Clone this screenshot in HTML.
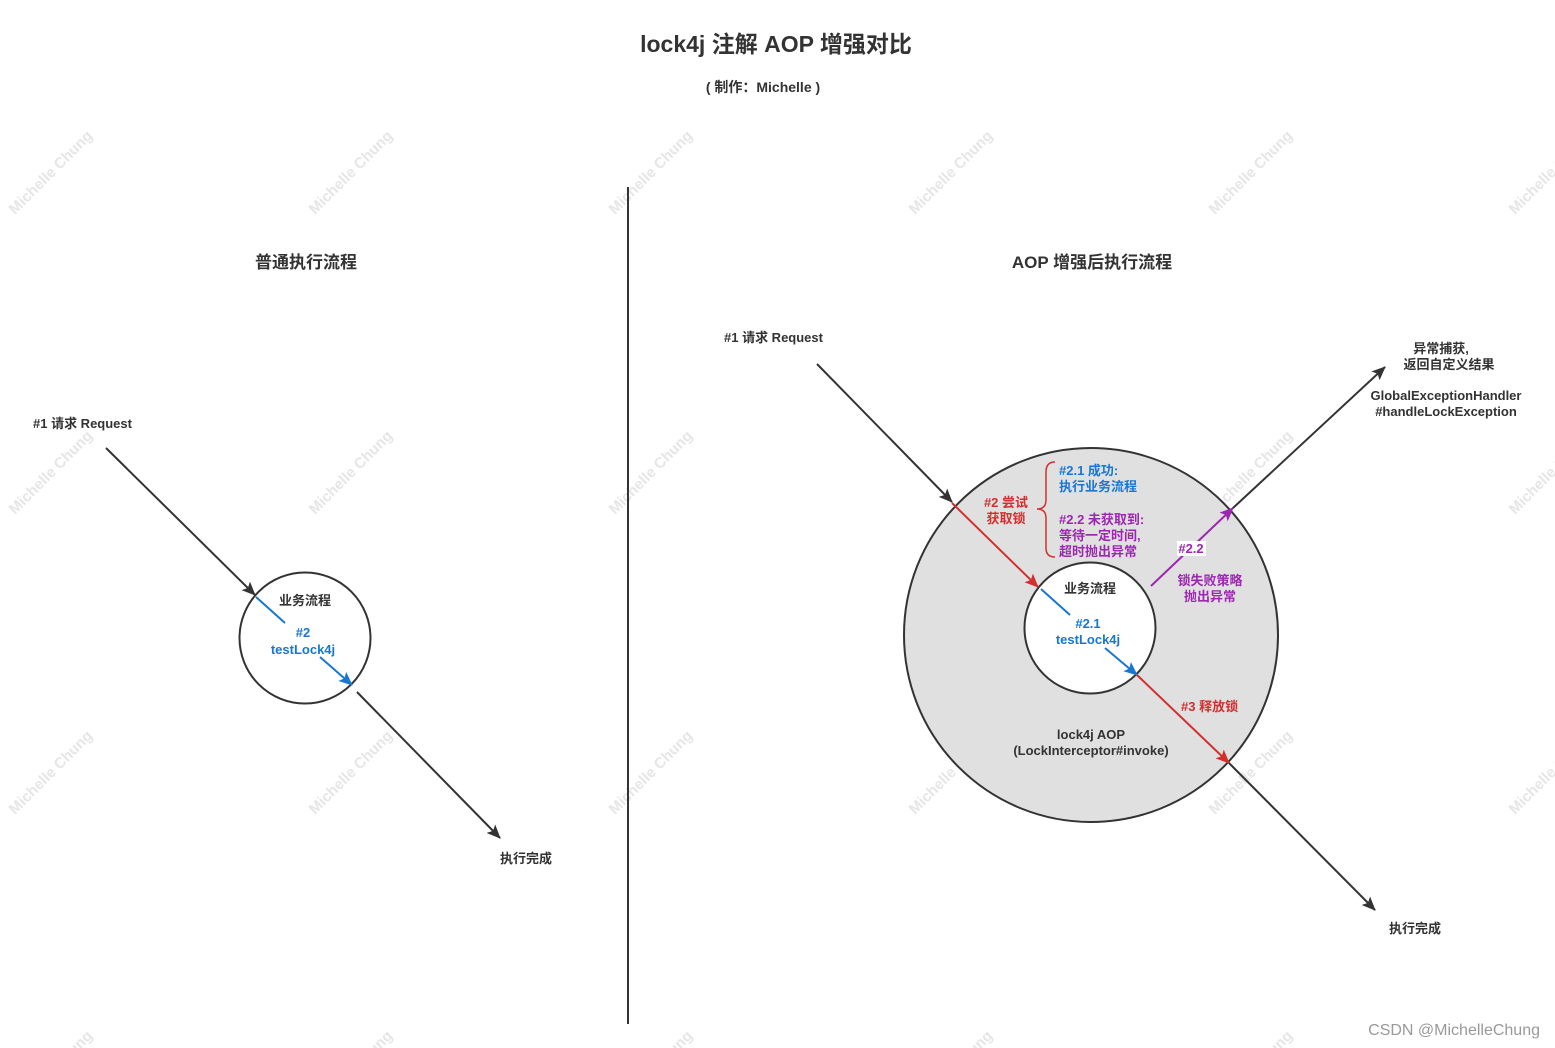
<!DOCTYPE html>
<html><head><meta charset="utf-8"><style>
html,body{margin:0;padding:0;background:#fff;width:1555px;height:1048px;overflow:hidden;}
svg{display:block;}
text{font-family:"Liberation Sans","Noto Sans CJK SC",sans-serif;font-weight:bold;}
</style></head><body>
<svg width="1555" height="1048" viewBox="0 0 1555 1048" xmlns="http://www.w3.org/2000/svg">
<defs>
<marker id="ak" markerWidth="14" markerHeight="12" refX="13" refY="6" orient="auto" markerUnits="userSpaceOnUse" viewBox="0 0 14 12"><path d="M0,0 L14,6 L0,12 L3,6 z" fill="#333"/></marker>
<marker id="ar" markerWidth="14" markerHeight="12" refX="13" refY="6" orient="auto" markerUnits="userSpaceOnUse" viewBox="0 0 14 12"><path d="M0,0 L14,6 L0,12 L3,6 z" fill="#d32f2f"/></marker>
<marker id="ab" markerWidth="14" markerHeight="12" refX="13" refY="6" orient="auto" markerUnits="userSpaceOnUse" viewBox="0 0 14 12"><path d="M0,0 L14,6 L0,12 L3,6 z" fill="#1976d2"/></marker>
<marker id="ap" markerWidth="14" markerHeight="12" refX="13" refY="6" orient="auto" markerUnits="userSpaceOnUse" viewBox="0 0 14 12"><path d="M0,0 L14,6 L0,12 L3,6 z" fill="#9c27b0"/></marker>
</defs>
<g fill="#e6e6e6" font-size="15" style="font-weight:normal">
<text transform="translate(15,215) rotate(-45)">Michelle Chung</text>
<text transform="translate(315,215) rotate(-45)">Michelle Chung</text>
<text transform="translate(615,215) rotate(-45)">Michelle Chung</text>
<text transform="translate(915,215) rotate(-45)">Michelle Chung</text>
<text transform="translate(1215,215) rotate(-45)">Michelle Chung</text>
<text transform="translate(1515,215) rotate(-45)">Michelle Chung</text>
<text transform="translate(15,515) rotate(-45)">Michelle Chung</text>
<text transform="translate(315,515) rotate(-45)">Michelle Chung</text>
<text transform="translate(615,515) rotate(-45)">Michelle Chung</text>
<text transform="translate(1215,515) rotate(-45)">Michelle Chung</text>
<text transform="translate(1515,515) rotate(-45)">Michelle Chung</text>
<text transform="translate(15,815) rotate(-45)">Michelle Chung</text>
<text transform="translate(315,815) rotate(-45)">Michelle Chung</text>
<text transform="translate(615,815) rotate(-45)">Michelle Chung</text>
<text transform="translate(915,815) rotate(-45)">Michelle Chung</text>
<text transform="translate(1215,815) rotate(-45)">Michelle Chung</text>
<text transform="translate(1515,815) rotate(-45)">Michelle Chung</text>
<text transform="translate(15,1115) rotate(-45)">Michelle Chung</text>
<text transform="translate(315,1115) rotate(-45)">Michelle Chung</text>
<text transform="translate(615,1115) rotate(-45)">Michelle Chung</text>
<text transform="translate(915,1115) rotate(-45)">Michelle Chung</text>
<text transform="translate(1215,1115) rotate(-45)">Michelle Chung</text>
</g>

<text x="776" y="52" font-size="23" fill="#333" text-anchor="middle">lock4j 注解 AOP 增强对比</text>
<text x="763" y="92" font-size="14" fill="#333" text-anchor="middle">( 制作：Michelle )</text>

<line x1="628" y1="187" x2="628" y2="1024" stroke="#333" stroke-width="2"/>

<text x="306" y="268" font-size="17" fill="#333" text-anchor="middle">普通执行流程</text>
<text x="1092" y="268" font-size="17" fill="#333" text-anchor="middle">AOP 增强后执行流程</text>

<!-- Left -->
<text x="33" y="428" font-size="13" fill="#333">#1 请求 Request</text>
<line x1="106" y1="448" x2="255" y2="595" stroke="#333" stroke-width="2" marker-end="url(#ak)"/>
<circle cx="305" cy="638" r="65.5" fill="#fff" stroke="#333" stroke-width="2"/>
<text x="305" y="605" font-size="13" fill="#333" text-anchor="middle">业务流程</text>
<line x1="256" y1="597" x2="285" y2="623" stroke="#1976d2" stroke-width="2"/>
<text x="303" y="637" font-size="13" fill="#1976d2" text-anchor="middle">#2</text>
<text x="303" y="654" font-size="13" fill="#1976d2" text-anchor="middle">testLock4j</text>
<line x1="320" y1="657" x2="352" y2="685" stroke="#1976d2" stroke-width="2" marker-end="url(#ab)"/>
<line x1="357" y1="692" x2="500" y2="838" stroke="#333" stroke-width="2" marker-end="url(#ak)"/>
<text x="500" y="863" font-size="13" fill="#333">执行完成</text>

<!-- Right -->
<ellipse cx="1091" cy="635" rx="187" ry="187" fill="#e0e0e0" stroke="#333" stroke-width="2"/>
<circle cx="1090" cy="628" r="65.5" fill="#fff" stroke="#333" stroke-width="2"/>
<text x="724" y="342" font-size="13" fill="#333">#1 请求 Request</text>
<line x1="817" y1="364" x2="952" y2="502" stroke="#333" stroke-width="2" marker-end="url(#ak)"/>
<line x1="952" y1="503" x2="1038" y2="587" stroke="#d32f2f" stroke-width="2" marker-end="url(#ar)"/>
<text x="1006" y="507" font-size="13" fill="#d32f2f" text-anchor="middle">#2 尝试</text>
<text x="1006" y="523" font-size="13" fill="#d32f2f" text-anchor="middle">获取锁</text>
<path d="M1055,462 Q1046,462 1046,472 L1046,500 Q1046,509 1037,509 Q1046,509 1046,518 L1046,548 Q1046,557 1055,557" fill="none" stroke="#d32f2f" stroke-width="1.5"/>
<text x="1059" y="475" font-size="13" fill="#1976d2">#2.1 成功:</text>
<text x="1059" y="491" font-size="13" fill="#1976d2">执行业务流程</text>
<text x="1059" y="524" font-size="13" fill="#9c27b0">#2.2 未获取到:</text>
<text x="1059" y="540" font-size="13" fill="#9c27b0">等待一定时间,</text>
<text x="1059" y="556" font-size="13" fill="#9c27b0">超时抛出异常</text>
<text x="1090" y="593" font-size="13" fill="#333" text-anchor="middle">业务流程</text>
<line x1="1041" y1="589" x2="1070" y2="615" stroke="#1976d2" stroke-width="2"/>
<text x="1088" y="628" font-size="13" fill="#1976d2" text-anchor="middle">#2.1</text>
<text x="1088" y="644" font-size="13" fill="#1976d2" text-anchor="middle">testLock4j</text>
<line x1="1105" y1="648" x2="1137" y2="675" stroke="#1976d2" stroke-width="2" marker-end="url(#ab)"/>
<line x1="1137" y1="675" x2="1229" y2="763" stroke="#d32f2f" stroke-width="2" marker-end="url(#ar)"/>
<text x="1181" y="711" font-size="13" fill="#d32f2f">#3 释放锁</text>
<line x1="1229" y1="763" x2="1375" y2="910" stroke="#333" stroke-width="2" marker-end="url(#ak)"/>
<text x="1389" y="933" font-size="13" fill="#333">执行完成</text>
<line x1="1151" y1="586" x2="1233" y2="508" stroke="#9c27b0" stroke-width="2" marker-end="url(#ap)"/>
<rect x="1177" y="541" width="29" height="15" fill="#fff"/>
<text x="1191" y="553" font-size="13" fill="#9c27b0" text-anchor="middle">#2.2</text>
<text x="1210" y="585" font-size="13" fill="#9c27b0" text-anchor="middle">锁失败策略</text>
<text x="1210" y="601" font-size="13" fill="#9c27b0" text-anchor="middle">抛出异常</text>
<line x1="1233" y1="508" x2="1385" y2="367" stroke="#333" stroke-width="2" marker-end="url(#ak)"/>
<text x="1441" y="353" font-size="13" fill="#333" text-anchor="middle">异常捕获,</text>
<text x="1449" y="369" font-size="13" fill="#333" text-anchor="middle">返回自定义结果</text>
<text x="1446" y="400" font-size="13" fill="#333" text-anchor="middle">GlobalExceptionHandler</text>
<text x="1446" y="416" font-size="13" fill="#333" text-anchor="middle">#handleLockException</text>
<text x="1091" y="739" font-size="13" fill="#333" text-anchor="middle">lock4j AOP</text>
<text x="1091" y="755" font-size="13" fill="#333" text-anchor="middle">(LockInterceptor#invoke)</text>

<text x="1540" y="1035" font-size="16" fill="#999" text-anchor="end" style="font-weight:normal">CSDN @MichelleChung</text>
</svg>
</body></html>
